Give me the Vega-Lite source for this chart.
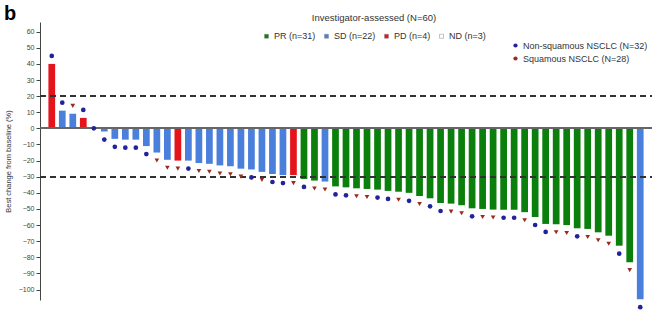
{
  "$schema": "https://vega.github.io/schema/vega-lite/v6.json",
  "width": 612,
  "height": 278,
  "autosize": {"type": "none"},
  "padding": {"left": 40, "top": 22, "right": 8, "bottom": 15},
  "background": "white",
  "title": {"text": "b", "anchor": "start", "frame": "group", "fontSize": 20, "fontWeight": "bold", "color": "#000", "dx": -36, "dy": 11, "offset": 0},
  "config": {
    "font": "Liberation Sans",
    "view": {"stroke": null}
  },
  "data": {"values": [
    {"id": 0, "pct": 40, "resp": "PD", "histology": "Non-squamous"},
    {"id": 1, "pct": 11, "resp": "SD", "histology": "Non-squamous"},
    {"id": 2, "pct": 9, "resp": "SD", "histology": "Squamous"},
    {"id": 3, "pct": 6.5, "resp": "PD", "histology": "Non-squamous"},
    {"id": 4, "pct": 0, "resp": "SD", "histology": "Non-squamous"},
    {"id": 5, "pct": -2, "resp": "SD", "histology": "Non-squamous"},
    {"id": 6, "pct": -6.5, "resp": "SD", "histology": "Non-squamous"},
    {"id": 7, "pct": -7, "resp": "SD", "histology": "Non-squamous"},
    {"id": 8, "pct": -7, "resp": "SD", "histology": "Non-squamous"},
    {"id": 9, "pct": -11, "resp": "SD", "histology": "Non-squamous"},
    {"id": 10, "pct": -15, "resp": "SD", "histology": "Squamous"},
    {"id": 11, "pct": -19.5, "resp": "SD", "histology": "Squamous"},
    {"id": 12, "pct": -20, "resp": "PD", "histology": "Squamous"},
    {"id": 13, "pct": -20, "resp": "SD", "histology": "Non-squamous"},
    {"id": 14, "pct": -21.5, "resp": "SD", "histology": "Squamous"},
    {"id": 15, "pct": -22, "resp": "SD", "histology": "Squamous"},
    {"id": 16, "pct": -23, "resp": "SD", "histology": "Squamous"},
    {"id": 17, "pct": -23.5, "resp": "SD", "histology": "Squamous"},
    {"id": 18, "pct": -25, "resp": "SD", "histology": "Squamous"},
    {"id": 19, "pct": -25.5, "resp": "SD", "histology": "Non-squamous"},
    {"id": 20, "pct": -27, "resp": "SD", "histology": "Squamous"},
    {"id": 21, "pct": -28.3, "resp": "SD", "histology": "Non-squamous"},
    {"id": 22, "pct": -29, "resp": "SD", "histology": "Non-squamous"},
    {"id": 23, "pct": -29, "resp": "PD", "histology": "Squamous"},
    {"id": 24, "pct": -31.4, "resp": "PR", "histology": "Non-squamous"},
    {"id": 25, "pct": -32.4, "resp": "PR", "histology": "Squamous"},
    {"id": 26, "pct": -33, "resp": "SD", "histology": "Squamous"},
    {"id": 27, "pct": -36, "resp": "PR", "histology": "Non-squamous"},
    {"id": 28, "pct": -36.6, "resp": "PR", "histology": "Non-squamous"},
    {"id": 29, "pct": -37.2, "resp": "PR", "histology": "Squamous"},
    {"id": 30, "pct": -37.6, "resp": "PR", "histology": "Squamous"},
    {"id": 31, "pct": -38, "resp": "PR", "histology": "Non-squamous"},
    {"id": 32, "pct": -38.8, "resp": "PR", "histology": "Non-squamous"},
    {"id": 33, "pct": -39.3, "resp": "PR", "histology": "Squamous"},
    {"id": 34, "pct": -40, "resp": "PR", "histology": "Non-squamous"},
    {"id": 35, "pct": -42, "resp": "PR", "histology": "Squamous"},
    {"id": 36, "pct": -43.4, "resp": "PR", "histology": "Non-squamous"},
    {"id": 37, "pct": -46.3, "resp": "PR", "histology": "Non-squamous"},
    {"id": 38, "pct": -46.7, "resp": "PR", "histology": "Squamous"},
    {"id": 39, "pct": -47.7, "resp": "PR", "histology": "Squamous"},
    {"id": 40, "pct": -49.6, "resp": "PR", "histology": "Non-squamous"},
    {"id": 41, "pct": -50, "resp": "PR", "histology": "Squamous"},
    {"id": 42, "pct": -50.4, "resp": "PR", "histology": "Squamous"},
    {"id": 43, "pct": -50.5, "resp": "PR", "histology": "Non-squamous"},
    {"id": 44, "pct": -50.5, "resp": "PR", "histology": "Non-squamous"},
    {"id": 45, "pct": -52, "resp": "PR", "histology": "Squamous"},
    {"id": 46, "pct": -55, "resp": "PR", "histology": "Non-squamous"},
    {"id": 47, "pct": -59.3, "resp": "PR", "histology": "Non-squamous"},
    {"id": 48, "pct": -59.5, "resp": "PR", "histology": "Squamous"},
    {"id": 49, "pct": -60, "resp": "PR", "histology": "Squamous"},
    {"id": 50, "pct": -62, "resp": "PR", "histology": "Non-squamous"},
    {"id": 51, "pct": -62.4, "resp": "PR", "histology": "Squamous"},
    {"id": 52, "pct": -64.5, "resp": "PR", "histology": "Squamous"},
    {"id": 53, "pct": -66.6, "resp": "PR", "histology": "Squamous"},
    {"id": 54, "pct": -72.8, "resp": "PR", "histology": "Non-squamous"},
    {"id": 55, "pct": -83, "resp": "PR", "histology": "Squamous"},
    {"id": 56, "pct": -106, "resp": "SD", "histology": "Non-squamous"}
  ]},
  "encoding": {
    "x": {"field": "id", "type": "ordinal", "axis": null, "scale": {"paddingInner": 0.36, "paddingOuter": 0.8}},
    "y": {"field": "pct", "type": "quantitative",
      "scale": {"domain": [-106.5, 66], "nice": false, "zero": false},
      "axis": {"title": "Best change from baseline (%)", "values": [-100, -90, -80, -70, -60, -50, -40, -30, -20, -10, 0, 10, 20, 30, 40, 50, 60],
        "grid": false, "labelFontSize": 7, "labelColor": "#444", "labelOverlap": false, "labelBound": false, "titleFontSize": 7.5, "titleFontWeight": "normal", "titleColor": "#333",
        "domainColor": "#444", "tickColor": "#444", "tickSize": 4, "labelPadding": 2, "titlePadding": 6}}
  },
  "layer": [
    {
      "mark": {"type": "bar"},
      "encoding": {
        "color": {"field": "resp", "type": "nominal",
          "scale": {"domain": ["PR", "SD", "PD", "ND"], "range": ["#0b7f0b", "#4a7fdc", "#e5141b", "#ffffff"]},
          "legend": {"title": "Investigator-assessed (N=60)", "orient": "none", "legendX": 222, "legendY": -9, "direction": "horizontal",
            "titleAnchor": "middle", "titleFontSize": 9.5, "titleFontWeight": "normal", "titleColor": "#333", "titlePadding": 9,
            "labelFontSize": 9, "labelColor": "#333", "labelOffset": 3, "columnPadding": 6,
            "symbolType": "square", "symbolSize": 16, "symbolStrokeColor": "#888", "symbolStrokeWidth": 0.5,
            "labelExpr": "datum.label == 'PR' ? 'PR (n=31)' : datum.label == 'SD' ? 'SD (n=22)' : datum.label == 'PD' ? 'PD (n=4)' : 'ND (n=3)'"}}
      }
    },
    {
      "mark": {"type": "rule", "color": "#333", "strokeWidth": 0.8, "strokeDash": [6, 4]},
      "encoding": {"y": {"datum": 20}, "x": {"value": 0}, "x2": {"value": 612}}
    },
    {
      "mark": {"type": "rule", "color": "#333", "strokeWidth": 0.8, "strokeDash": [6, 4]},
      "encoding": {"y": {"datum": -30}, "x": {"value": 0}, "x2": {"value": 612}}
    },
    {
      "mark": {"type": "rule", "color": "#666", "strokeWidth": 1},
      "encoding": {"y": {"datum": 0}, "x": {"value": 0}, "x2": {"value": 612}}
    },
    {
      "encoding": {
        "color": {"field": "histology", "type": "nominal",
          "scale": {"domain": ["Non-squamous", "Squamous"], "range": ["#22229a", "#9c2a1e"]},
          "legend": {"title": null, "orient": "none", "legendX": 471, "legendY": 19, "direction": "vertical",
            "labelFontSize": 9, "labelColor": "#333", "labelOffset": 3, "rowPadding": 3, "symbolSize": 18,
            "labelExpr": "datum.label == 'Non-squamous' ? 'Non-squamous NSCLC (N=32)' : 'Squamous NSCLC (N=28)'"}},
        "shape": {"field": "histology", "type": "nominal",
          "scale": {"domain": ["Non-squamous", "Squamous"], "range": ["circle", "triangle-down"]}}
      },
      "layer": [
        {"transform": [{"filter": "datum.pct > 0"}], "mark": {"type": "point", "filled": true, "opacity": 1, "size": 22, "yOffset": -8}},
        {"transform": [{"filter": "datum.pct < 0"}], "mark": {"type": "point", "filled": true, "opacity": 1, "size": 22, "yOffset": 8}},
        {"transform": [{"filter": "datum.pct == 0"}], "mark": {"type": "point", "filled": true, "opacity": 1, "size": 22}}
      ]
    }
  ],
  "resolve": {"scale": {"color": "independent"}}
}
